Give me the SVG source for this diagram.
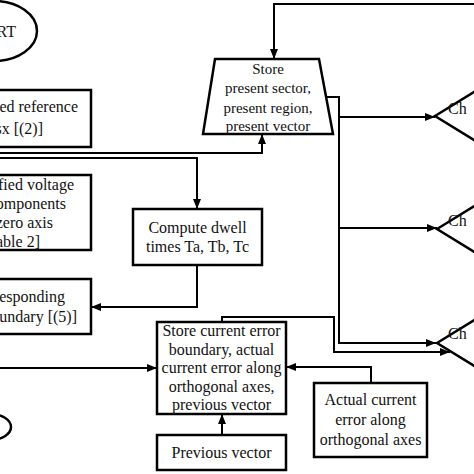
<svg xmlns="http://www.w3.org/2000/svg" width="474" height="474" viewBox="0 0 474 474">
<defs>
<marker id="ah" markerUnits="userSpaceOnUse" markerWidth="11" markerHeight="9" refX="10" refY="4" orient="auto">
<path d="M0,0 L10,4 L0,8 z" fill="#000"/>
</marker>
<style>
.n{fill:#fff;stroke:#000;stroke-width:2.5}
.c{fill:none;stroke:#000;stroke-width:2;marker-end:url(#ah)}
.l{fill:none;stroke:#000;stroke-width:2}
text{font-family:"Liberation Serif","Times New Roman",serif;font-size:16px;fill:#111}
.m{text-anchor:middle}
.e{text-anchor:end}
.s{font-size:15px}
</style>
</defs>
<rect width="474" height="474" fill="#fff"/>
<g id="connectors">
<path class="c" d="M474 4 H274 V59"/>
<path class="c" d="M-5 153 H262 V134"/>
<path class="c" d="M-5 158 H197 V209"/>
<path class="c" d="M197 265 V307 H91"/>
<path class="c" d="M326 97 H339 V343 H436"/>
<path class="c" d="M339 117 H435"/>
<path class="c" d="M339 228 H437"/>
<path class="c" d="M222 322 V317 H334 V352 H450"/>
<path class="c" d="M-5 368 H157"/>
<path class="c" d="M222 435 V414"/>
<path class="c" d="M371 383 V367 H286"/>
</g>
<g id="start">
<ellipse class="n" cx="-6" cy="31" rx="43" ry="30"/>
<text class="e" x="16" y="37">START</text>
</g>
<g id="box1">
<rect class="n" x="-10" y="90" width="101" height="57"/>
<text class="e" x="78" y="112">ed reference</text>
<text class="e" x="43" y="134">sx [(2)]</text>
</g>
<g id="box2">
<rect class="n" x="-10" y="175" width="101" height="75"/>
<text class="e" x="74" y="190">fied voltage</text>
<text class="e" x="66" y="209">omponents</text>
<text class="e" x="53" y="228">zero axis</text>
<text class="e" x="40" y="247">able 2]</text>
</g>
<g id="box3">
<rect class="n" x="-10" y="279" width="101" height="55"/>
<text class="e" x="65" y="302">esponding</text>
<text class="e" x="77" y="322">undary [(5)]</text>
</g>
<g id="store-sector">
<path class="n" d="M215 59 H319 L333 134 H203 Z"/>
<text class="m s" x="268" y="74">Store</text>
<text class="m s" x="268" y="93">present sector,</text>
<text class="m s" x="268" y="113">present region,</text>
<text class="m s" x="268" y="131">present vector</text>
</g>
<g id="compute">
<rect class="n" x="133" y="209" width="129" height="56"/>
<text class="m" x="197.5" y="233">Compute dwell</text>
<text class="m" x="197.5" y="252">times Ta, Tb, Tc</text>
</g>
<g id="store-error">
<rect class="n" x="157" y="322" width="129" height="92"/>
<text class="m" x="221.5" y="336">Store current error</text>
<text class="m" x="221.5" y="354.5">boundary, actual</text>
<text class="m" x="221.5" y="373">current error along</text>
<text class="m" x="221.5" y="391.5">orthogonal axes,</text>
<text class="m" x="221.5" y="410">previous vector</text>
</g>
<g id="previous">
<rect class="n" x="157" y="435" width="129" height="35"/>
<text class="m" x="221.5" y="458">Previous vector</text>
</g>
<g id="actual">
<rect class="n" x="314" y="383" width="113" height="74"/>
<text class="m" x="370.5" y="405">Actual current</text>
<text class="m" x="370.5" y="425">error along</text>
<text class="m" x="370.5" y="445">orthogonal axes</text>
</g>
<g id="end">
<ellipse class="n" cx="-10" cy="427" rx="21" ry="13"/>
</g>
<g id="diamond1">
<polygon class="n" points="435,116 500,76 565,116 500,156"/>
<text x="448" y="114">Ch</text>
</g>
<g id="diamond2">
<polygon class="n" points="437,229 502,189 567,229 502,269"/>
<text x="448" y="226">Ch</text>
</g>
<g id="diamond3">
<polygon class="n" points="437,343 502,303 567,343 502,383"/>
<text x="448" y="339">Ch</text>
</g>
</svg>
